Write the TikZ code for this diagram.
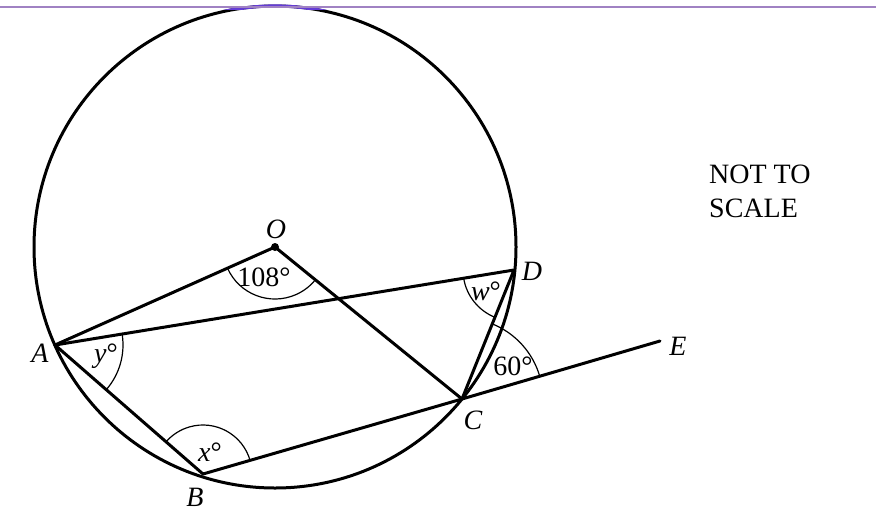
\documentclass[tikz,border=0pt]{standalone}
\usepackage{fontspec}
\setmainfont{Liberation Serif}
\usetikzlibrary{angles}
\begin{document}
\begin{tikzpicture}[x=1pt,y=-1pt,
  geo/.style={line width=3pt,line cap=round,line join=round},
  arcmark/.style={draw,line width=1.2pt},
  ptlabel/.style={font=\fontsize{28}{28}\selectfont\itshape,inner sep=0pt},
  anglabel/.style={font=\fontsize{28}{28}\selectfont,inner sep=0pt}]
\useasboundingbox (0,0) rectangle (876,512);
\coordinate (O) at (275,247);
\coordinate (A) at (55,345);
\coordinate (B) at (203,474);
\coordinate (C) at (462,399);
\coordinate (D) at (514,270);
\coordinate (E) at (660,341);
\coordinate (L0) at (0,7);
\coordinate (L1) at (876,7);
% circle
\draw[geo] (O) circle (241);
\begin{scope}
  \clip (0,0) rectangle (876,9);
  \draw[line width=3.2pt,color={rgb,255:red,100;green,60;blue,215}] (O) circle (241);
\end{scope}
\draw[line width=2.4pt,color={rgb,255:red,160;green,130;blue,195}] (L0) -- (L1);
% lines
\draw[geo] (A) -- (O) -- (C);
\draw[geo] (A) -- (D) -- (C);
\draw[geo] (A) -- (B) -- (C) -- (E);
\fill (O) circle (4);
% angle arcs
\pic[arcmark,angle radius=52pt] {angle = A--O--C};
\pic[arcmark,angle radius=68pt] {angle = B--A--D};
\pic[arcmark,angle radius=49pt] {angle = C--B--A};
\pic[arcmark,angle radius=51pt] {angle = A--D--C};
\pic[arcmark,angle radius=81pt] {angle = E--C--D};
% labels
\node[ptlabel] (lO) at (276,229) {O};
\node[ptlabel] (lA) at (40,353) {A};
\node[ptlabel] (lB) at (195,497) {B};
\node[ptlabel] (lC) at (473,420) {C};
\node[ptlabel] (lD) at (532,271) {D};
\node[ptlabel] (lE) at (678,346) {E};
\node[anglabel] (a108) at (264,277) {108°};
\node[anglabel] (ay) at (106,356) {\textit{y}°};
\node[anglabel] (ax) at (210,452) {\textit{x}°};
\node[anglabel] (aw) at (486,291) {\textit{w}°};
\node[anglabel] (a60) at (513,366) {60°};
\node[anchor=north west,align=left,inner sep=0pt,
  font=\fontsize{28}{34}\selectfont] (nts) at (709,165) {NOT TO\\SCALE};
\end{tikzpicture}
\end{document}
